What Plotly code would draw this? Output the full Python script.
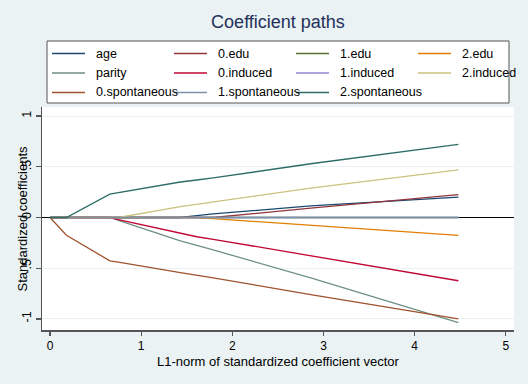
import plotly.graph_objects as go

# ---- data ----
l1_norm = [0, 0.18, 0.656, 0.75, 1.43, 1.61, 1.79, 2.86, 4.48]

series_names = ["age", "0.edu", "1.edu", "2.edu", "parity", "0.induced",
                "1.induced", "2.induced", "0.spontaneous", "1.spontaneous",
                "2.spontaneous"]

age = [0, 0, 0, 0, 0, 0.018, 0.035, 0.114, 0.2]
edu0 = [0, 0, 0, 0, 0, 0, 0, 0.092, 0.226]
edu1 = [0, 0, 0, 0, 0, 0, 0, 0, 0]
edu2 = [0, 0, 0, 0, 0, 0, -0.011, -0.076, -0.177]
parity = [0, 0, 0, -0.028, -0.23, -0.275, -0.32, -0.595, -1.037]
induced0 = [0, 0, 0, -0.02, -0.16, -0.19, -0.215, -0.378, -0.624]
induced1 = [0, 0, 0, 0, 0, 0, 0, 0, 0]
induced2 = [0, 0, 0, 0, 0.107, 0.13, 0.155, 0.29, 0.47]
spont0 = [0, -0.175, -0.427, -0.44, -0.545, -0.57, -0.595, -0.76, -1.0]
spont1 = [0, 0, 0, 0, 0, 0, 0, 0, 0]
spont2 = [0, 0, 0.23, 0.245, 0.35, 0.37, 0.39, 0.53, 0.722]

series_values = [age, edu0, edu1, edu2, parity, induced0, induced1, induced2,
                 spont0, spont1, spont2]

x_ticks = [0, 1, 2, 3, 4, 5]
y_tickvals = [-1, -0.5, 0, 0.5, 1]
y_ticktext = ["-1", "-.5", "0", ".5", "1"]

# ---- styling ----
colors = ["#1a476f", "#90353b", "#55752f", "#e37e00", "#6e8e84", "#c10534",
          "#938dd2", "#cac27e", "#a0522d", "#7b92a8", "#2d6d66"]

W, H = 528, 384
L, R, T, B = 42, 14, 107, 54
PW, PH = W - L - R, H - T - B
FONT = "Liberation Sans, Arial, sans-serif"
BG = "#eaf2f3"


def px_x(p):
    return (p - L) / PW


def px_y(p):
    return (H - B - p) / PH


fig = go.Figure()
for name, vals, col in zip(series_names, series_values, colors):
    fig.add_trace(go.Scatter(x=l1_norm, y=vals, mode="lines", name=name,
                             line=dict(color=col, width=1.3),
                             showlegend=False, hoverinfo="skip"))

shapes = []
annotations = []

# manual legend box laid out like the reference (4 columns x 3 rows)
shapes.append(dict(type="rect", xref="paper", yref="paper",
                   x0=px_x(47), x1=px_x(509), y0=px_y(41), y1=px_y(103),
                   fillcolor="white", line=dict(color="#555555", width=1),
                   layer="above"))
for i, (name, col) in enumerate(zip(series_names, colors)):
    c, r = i % 4, i // 4
    yy = px_y(53.5 + 19.5 * r)
    shapes.append(dict(type="line", xref="paper", yref="paper",
                       x0=px_x(52 + 122 * c), x1=px_x(85 + 122 * c),
                       y0=yy, y1=yy, line=dict(color=col, width=1.3),
                       layer="above"))
    annotations.append(dict(text=name, xref="paper", yref="paper",
                            x=px_x(94 + 122 * c), y=yy, xanchor="left",
                            yanchor="middle", showarrow=False,
                            font=dict(family=FONT, size=12.5, color="black")))

# axis titles
annotations.append(dict(text="Standardized coefficients", xref="paper",
                        yref="paper", x=0, xshift=-20, y=0.5, textangle=-90,
                        xanchor="center", yanchor="middle", showarrow=False,
                        font=dict(family=FONT, size=13, color="black")))
annotations.append(dict(text="L1-norm of standardized coefficient vector",
                        xref="paper", yref="paper", x=0.5, y=0, yshift=-31,
                        xanchor="center", yanchor="middle", showarrow=False,
                        font=dict(family=FONT, size=13, color="black")))

fig.update_layout(
    width=W, height=H,
    margin=dict(l=L, r=R, t=T, b=B),
    paper_bgcolor=BG, plot_bgcolor="white",
    title=dict(text="Coefficient paths", x=(L + PW / 2) / W, xanchor="center",
               y=1 - 22 / H, yanchor="middle",
               font=dict(family=FONT, size=18, color="#24305a")),
    font=dict(family=FONT, size=12.5, color="black"),
    shapes=shapes, annotations=annotations,
    showlegend=False, hovermode=False,
)
fig.update_xaxes(range=[-0.088, 5.09], tickvals=x_ticks, showgrid=False,
                 zeroline=False, showline=True, linecolor="#555555",
                 linewidth=1.5, ticks="outside", ticklen=4, tickwidth=1.3,
                 tickcolor="#555555", tickfont=dict(size=12, color="black"))
fig.update_yaxes(range=[-1.11, 1.09], tickvals=y_tickvals, ticktext=y_ticktext,
                 tickangle=-90, showgrid=True, gridcolor=BG, gridwidth=1,
                 zeroline=True, zerolinecolor="black", zerolinewidth=1.3,
                 showline=True, linecolor="#555555", linewidth=1.5,
                 ticks="outside", ticklen=5, tickwidth=1.3,
                 tickcolor="#555555", tickfont=dict(size=12.5, color="black"))

fig.write_html(
    "out.html",
    config={"displayModeBar": False, "staticPlot": True},
    post_script="document.body.style.margin='0px';"
                "document.body.style.overflow='hidden';",
)
